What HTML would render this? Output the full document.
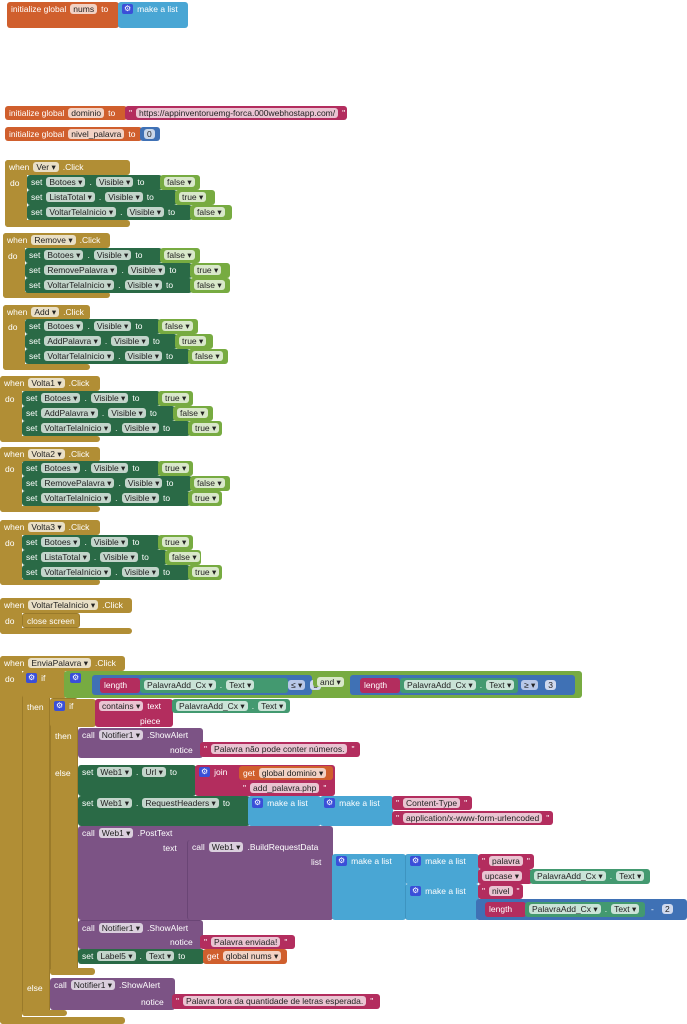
<!DOCTYPE html>
<html><head><meta charset="utf-8"><style>
body{margin:0;width:687px;height:1024px;background:#fff;position:relative;overflow:hidden;font-family:"Liberation Sans",sans-serif}
.b{position:absolute;box-sizing:border-box;border-radius:3px;color:#fff;font-size:8.5px;white-space:nowrap}
.r{display:flex;align-items:flex-start;gap:4px;padding:2px 0 0 4px}
.b i{font-style:normal;background:rgba(255,255,255,.72);color:#222;border-radius:3px;padding:0 3px;line-height:10px;height:10px}
.b u{text-decoration:none;background:#3a4fd8;color:#fff;border-radius:2px;padding:0 2px;line-height:10px;font-size:8px}
.ev{background:#b18e35}.sg{background:#2a6a46}.gg{background:#439970}.lg{background:#77ab41}
.tx{background:#b32d5e}.mb{background:#3f71b5}.ls{background:#49a6d4}.vr{background:#d05f2d}.pr{background:#7c5385}
</style></head><body>
<!-- globals -->
<div class="b vr r" style="left:7px;top:2px;width:112px;height:26px">initialize global <i>nums</i> to</div>
<div class="b ls r" style="left:118px;top:2px;width:70px;height:26px"><u>⚙</u> make a list</div>
<div class="b vr r" style="left:5px;top:106px;width:122px;height:14px">initialize global <i>dominio</i> to</div>
<div class="b tx r" style="left:125px;top:106px;width:222px;height:14px">" <i>https://appinventoruemg-forca.000webhostapp.com/</i> "</div>
<div class="b vr r" style="left:5px;top:127px;width:137px;height:14px">initialize global <i>nivel_palavra</i> to</div>
<div class="b mb r" style="left:140px;top:127px;width:20px;height:14px"><i>0</i></div>

<!-- Ver -->
<div class="b ev" style="left:5px;top:160px;width:22px;height:67px"></div>
<div class="b ev" style="left:5px;top:220px;width:125px;height:7px"></div>
<div class="b ev r" style="left:5px;top:160px;width:125px;height:15px">when <i>Ver ▾</i> .Click</div>
<div class="b ev" style="left:10px;top:178px;background:none">do</div>
<div class="b sg r" style="left:27px;top:175px;width:135px;height:15px">set <i>Botoes ▾</i> . <i>Visible ▾</i> to</div><div class="b lg r" style="left:160px;top:175px;width:40px;height:15px"><i>false ▾</i></div>
<div class="b sg r" style="left:27px;top:190px;width:150px;height:15px">set <i>ListaTotal ▾</i> . <i>Visible ▾</i> to</div><div class="b lg r" style="left:175px;top:190px;width:40px;height:15px"><i>true ▾</i></div>
<div class="b sg r" style="left:27px;top:205px;width:165px;height:15px">set <i>VoltarTelaInicio ▾</i> . <i>Visible ▾</i> to</div><div class="b lg r" style="left:190px;top:205px;width:42px;height:15px"><i>false ▾</i></div>

<!-- Remove -->
<div class="b ev" style="left:3px;top:233px;width:22px;height:65px"></div>
<div class="b ev" style="left:3px;top:292px;width:107px;height:6px"></div>
<div class="b ev r" style="left:3px;top:233px;width:107px;height:15px">when <i>Remove ▾</i> .Click</div>
<div class="b" style="left:8px;top:251px">do</div>
<div class="b sg r" style="left:25px;top:248px;width:137px;height:15px">set <i>Botoes ▾</i> . <i>Visible ▾</i> to</div><div class="b lg r" style="left:160px;top:248px;width:40px;height:15px"><i>false ▾</i></div>
<div class="b sg r" style="left:25px;top:263px;width:167px;height:15px">set <i>RemovePalavra ▾</i> . <i>Visible ▾</i> to</div><div class="b lg r" style="left:190px;top:263px;width:40px;height:15px"><i>true ▾</i></div>
<div class="b sg r" style="left:25px;top:278px;width:167px;height:15px">set <i>VoltarTelaInicio ▾</i> . <i>Visible ▾</i> to</div><div class="b lg r" style="left:190px;top:278px;width:40px;height:15px"><i>false ▾</i></div>

<!-- Add -->
<div class="b ev" style="left:3px;top:305px;width:22px;height:65px"></div>
<div class="b ev" style="left:3px;top:364px;width:87px;height:6px"></div>
<div class="b ev r" style="left:3px;top:305px;width:87px;height:15px">when <i>Add ▾</i> .Click</div>
<div class="b" style="left:8px;top:322px">do</div>
<div class="b sg r" style="left:25px;top:319px;width:135px;height:15px">set <i>Botoes ▾</i> . <i>Visible ▾</i> to</div><div class="b lg r" style="left:158px;top:319px;width:40px;height:15px"><i>false ▾</i></div>
<div class="b sg r" style="left:25px;top:334px;width:152px;height:15px">set <i>AddPalavra ▾</i> . <i>Visible ▾</i> to</div><div class="b lg r" style="left:175px;top:334px;width:38px;height:15px"><i>true ▾</i></div>
<div class="b sg r" style="left:25px;top:349px;width:165px;height:15px">set <i>VoltarTelaInicio ▾</i> . <i>Visible ▾</i> to</div><div class="b lg r" style="left:188px;top:349px;width:40px;height:15px"><i>false ▾</i></div>

<!-- Volta1 -->
<div class="b ev" style="left:0px;top:376px;width:22px;height:66px"></div>
<div class="b ev" style="left:0px;top:436px;width:100px;height:6px"></div>
<div class="b ev r" style="left:0px;top:376px;width:100px;height:15px">when <i>Volta1 ▾</i> .Click</div>
<div class="b" style="left:5px;top:394px">do</div>
<div class="b sg r" style="left:22px;top:391px;width:138px;height:15px">set <i>Botoes ▾</i> . <i>Visible ▾</i> to</div><div class="b lg r" style="left:158px;top:391px;width:35px;height:15px"><i>true ▾</i></div>
<div class="b sg r" style="left:22px;top:406px;width:153px;height:15px">set <i>AddPalavra ▾</i> . <i>Visible ▾</i> to</div><div class="b lg r" style="left:173px;top:406px;width:40px;height:15px"><i>false ▾</i></div>
<div class="b sg r" style="left:22px;top:421px;width:168px;height:15px">set <i>VoltarTelaInicio ▾</i> . <i>Visible ▾</i> to</div><div class="b lg r" style="left:188px;top:421px;width:34px;height:15px"><i>true ▾</i></div>

<!-- Volta2 -->
<div class="b ev" style="left:0px;top:447px;width:22px;height:65px"></div>
<div class="b ev" style="left:0px;top:506px;width:100px;height:6px"></div>
<div class="b ev r" style="left:0px;top:447px;width:100px;height:15px">when <i>Volta2 ▾</i> .Click</div>
<div class="b" style="left:5px;top:464px">do</div>
<div class="b sg r" style="left:22px;top:461px;width:138px;height:15px">set <i>Botoes ▾</i> . <i>Visible ▾</i> to</div><div class="b lg r" style="left:158px;top:461px;width:35px;height:15px"><i>true ▾</i></div>
<div class="b sg r" style="left:22px;top:476px;width:170px;height:15px">set <i>RemovePalavra ▾</i> . <i>Visible ▾</i> to</div><div class="b lg r" style="left:190px;top:476px;width:40px;height:15px"><i>false ▾</i></div>
<div class="b sg r" style="left:22px;top:491px;width:168px;height:15px">set <i>VoltarTelaInicio ▾</i> . <i>Visible ▾</i> to</div><div class="b lg r" style="left:188px;top:491px;width:34px;height:15px"><i>true ▾</i></div>

<!-- Volta3 -->
<div class="b ev" style="left:0px;top:520px;width:22px;height:65px"></div>
<div class="b ev" style="left:0px;top:579px;width:100px;height:6px"></div>
<div class="b ev r" style="left:0px;top:520px;width:100px;height:15px">when <i>Volta3 ▾</i> .Click</div>
<div class="b" style="left:5px;top:538px">do</div>
<div class="b sg r" style="left:22px;top:535px;width:138px;height:15px">set <i>Botoes ▾</i> . <i>Visible ▾</i> to</div><div class="b lg r" style="left:158px;top:535px;width:35px;height:15px"><i>true ▾</i></div>
<div class="b sg r" style="left:22px;top:550px;width:145px;height:15px">set <i>ListaTotal ▾</i> . <i>Visible ▾</i> to</div><div class="b lg r" style="left:165px;top:550px;width:36px;height:15px"><i>false ▾</i></div>
<div class="b sg r" style="left:22px;top:565px;width:168px;height:15px">set <i>VoltarTelaInicio ▾</i> . <i>Visible ▾</i> to</div><div class="b lg r" style="left:188px;top:565px;width:34px;height:15px"><i>true ▾</i></div>

<!-- VoltarTelaInicio -->
<div class="b ev" style="left:0px;top:598px;width:22px;height:36px"></div>
<div class="b ev" style="left:0px;top:628px;width:132px;height:6px"></div>
<div class="b ev r" style="left:0px;top:598px;width:132px;height:15px">when <i>VoltarTelaInicio ▾</i> .Click</div>
<div class="b" style="left:5px;top:616px">do</div>
<div class="b ev r" style="left:22px;top:613px;width:58px;height:15px;border:1px solid #9a7a2a">close screen</div>

<!-- EnviaPalavra -->
<div class="b ev" style="left:0px;top:656px;width:22px;height:368px"></div>
<div class="b ev" style="left:0px;top:1017px;width:125px;height:7px"></div>
<div class="b ev r" style="left:0px;top:656px;width:125px;height:15px">when <i>EnviaPalavra ▾</i> .Click</div>
<div class="b" style="left:5px;top:674px">do</div>
<!-- outer if -->
<div class="b ev" style="left:22px;top:671px;width:28px;height:345px;border:1px solid #9a7a2a"></div>
<div class="b ev" style="left:22px;top:1010px;width:45px;height:6px"></div>
<div class="b ev r" style="left:22px;top:671px;width:45px;height:27px"><u>⚙</u> if</div>
<div class="b" style="left:27px;top:702px">then</div>
<div class="b" style="left:27px;top:983px">else</div>
<div class="b lg r" style="left:64px;top:671px;width:518px;height:27px;padding-left:6px"><u>⚙</u></div>
<div class="b mb" style="left:92px;top:675px;width:220px;height:20px"></div>
<div class="b tx r" style="left:100px;top:678px;width:40px;height:15px">length</div>
<div class="b gg r" style="left:140px;top:678px;width:148px;height:15px"><i>PalavraAdd_Cx ▾</i> . <i>Text ▾</i></div>
<div class="b r" style="left:288px;top:678px;padding:2px 0 0 0;gap:5px"><i style="background:#b8c8e8">≤ ▾</i><i style="background:#cfd9ee">5</i></div>
<div class="b lg r" style="left:313px;top:675px"><i>and ▾</i></div>
<div class="b mb" style="left:350px;top:675px;width:225px;height:20px"></div>
<div class="b tx r" style="left:360px;top:678px;width:40px;height:15px">length</div>
<div class="b gg r" style="left:400px;top:678px;width:118px;height:15px"><i>PalavraAdd_Cx ▾</i> . <i>Text ▾</i></div>
<div class="b r" style="left:521px;top:678px;padding:2px 0 0 0;gap:7px"><i style="background:#b8c8e8">≥ ▾</i><i style="background:#cfd9ee">3</i></div>
<!-- inner if -->
<div class="b ev" style="left:50px;top:698px;width:28px;height:277px;border:1px solid #9a7a2a"></div>
<div class="b ev" style="left:50px;top:968px;width:45px;height:7px"></div>
<div class="b ev r" style="left:50px;top:699px;width:46px;height:28px"><u>⚙</u> if</div>
<div class="b" style="left:55px;top:731px">then</div>
<div class="b" style="left:55px;top:768px">else</div>
<div class="b tx r" style="left:95px;top:699px;width:78px;height:28px"><i>contains ▾</i> text</div>
<div class="b" style="left:140px;top:716px">piece</div>
<div class="b gg r" style="left:172px;top:699px;width:118px;height:14px"><i>PalavraAdd_Cx ▾</i> . <i>Text ▾</i></div>
<div class="b pr r" style="left:78px;top:728px;width:125px;height:30px">call <i>Notifier1 ▾</i> .ShowAlert</div>
<div class="b" style="left:170px;top:745px">notice</div>
<div class="b tx r" style="left:200px;top:742px;width:160px;height:15px">" <i>Palavra não pode conter números.</i> "</div>
<!-- else part -->
<div class="b sg r" style="left:78px;top:765px;width:118px;height:31px">set <i>Web1 ▾</i> . <i>Url ▾</i> to</div>
<div class="b tx r" style="left:195px;top:765px;width:140px;height:31px"><u>⚙</u> join</div>
<div class="b vr r" style="left:239px;top:766px;width:94px;height:14px">get <i>global dominio ▾</i></div>
<div class="b tx r" style="left:239px;top:781px;width:92px;height:14px">" <i>add_palavra.php</i> "</div>
<div class="b sg r" style="left:78px;top:796px;width:172px;height:30px">set <i>Web1 ▾</i> . <i>RequestHeaders ▾</i> to</div>
<div class="b ls r" style="left:248px;top:796px;width:73px;height:30px"><u>⚙</u> make a list</div>
<div class="b ls r" style="left:320px;top:796px;width:73px;height:30px"><u>⚙</u> make a list</div>
<div class="b tx r" style="left:392px;top:796px;width:80px;height:14px">" <i>Content-Type</i> "</div>
<div class="b tx r" style="left:392px;top:811px;width:161px;height:14px">" <i>application/x-www-form-urlencoded</i> "</div>
<div class="b pr r" style="left:78px;top:826px;width:255px;height:94px">call <i>Web1 ▾</i> .PostText</div>
<div class="b" style="left:163px;top:843px">text</div>
<div class="b pr r" style="left:187px;top:840px;width:146px;height:80px;border-left:1px solid #6a4575">call <i>Web1 ▾</i> .BuildRequestData</div>
<div class="b" style="left:311px;top:857px">list</div>
<div class="b ls r" style="left:332px;top:854px;width:74px;height:66px"><u>⚙</u> make a list</div>
<div class="b ls r" style="left:405px;top:854px;width:74px;height:30px;border-left:1px solid #3d94c0"><u>⚙</u> make a list</div>
<div class="b ls r" style="left:405px;top:884px;width:74px;height:36px;border-left:1px solid #3d94c0"><u>⚙</u> make a list</div>
<div class="b tx r" style="left:478px;top:854px;width:56px;height:15px">" <i>palavra</i> "</div>
<div class="b tx r" style="left:478px;top:869px;width:54px;height:15px"><i>upcase ▾</i></div>
<div class="b gg r" style="left:530px;top:869px;width:120px;height:15px"><i>PalavraAdd_Cx ▾</i> . <i>Text ▾</i></div>
<div class="b tx r" style="left:478px;top:884px;width:45px;height:15px">" <i>nivel</i> "</div>
<div class="b mb" style="left:476px;top:899px;width:211px;height:21px"></div>
<div class="b tx r" style="left:485px;top:902px;width:41px;height:15px">length</div>
<div class="b gg r" style="left:525px;top:902px;width:120px;height:15px"><i>PalavraAdd_Cx ▾</i> . <i>Text ▾</i></div>
<div class="b" style="left:651px;top:904px">-</div>
<div class="b r" style="left:662px;top:902px;padding:2px 0 0 0"><i style="background:#cfd9ee">2</i></div>
<div class="b pr r" style="left:78px;top:920px;width:125px;height:29px;border-top:1px solid #6a4575">call <i>Notifier1 ▾</i> .ShowAlert</div>
<div class="b" style="left:170px;top:937px">notice</div>
<div class="b tx r" style="left:200px;top:935px;width:95px;height:14px">" <i>Palavra enviada!</i> "</div>
<div class="b sg r" style="left:78px;top:949px;width:126px;height:15px">set <i>Label5 ▾</i> . <i>Text ▾</i> to</div>
<div class="b vr r" style="left:203px;top:949px;width:84px;height:15px">get <i>global nums ▾</i></div>
<!-- outer else -->
<div class="b pr r" style="left:50px;top:978px;width:125px;height:32px">call <i>Notifier1 ▾</i> .ShowAlert</div>
<div class="b" style="left:141px;top:997px">notice</div>
<div class="b tx r" style="left:172px;top:994px;width:208px;height:15px">" <i>Palavra fora da quantidade de letras esperada.</i> "</div>
</body></html>
